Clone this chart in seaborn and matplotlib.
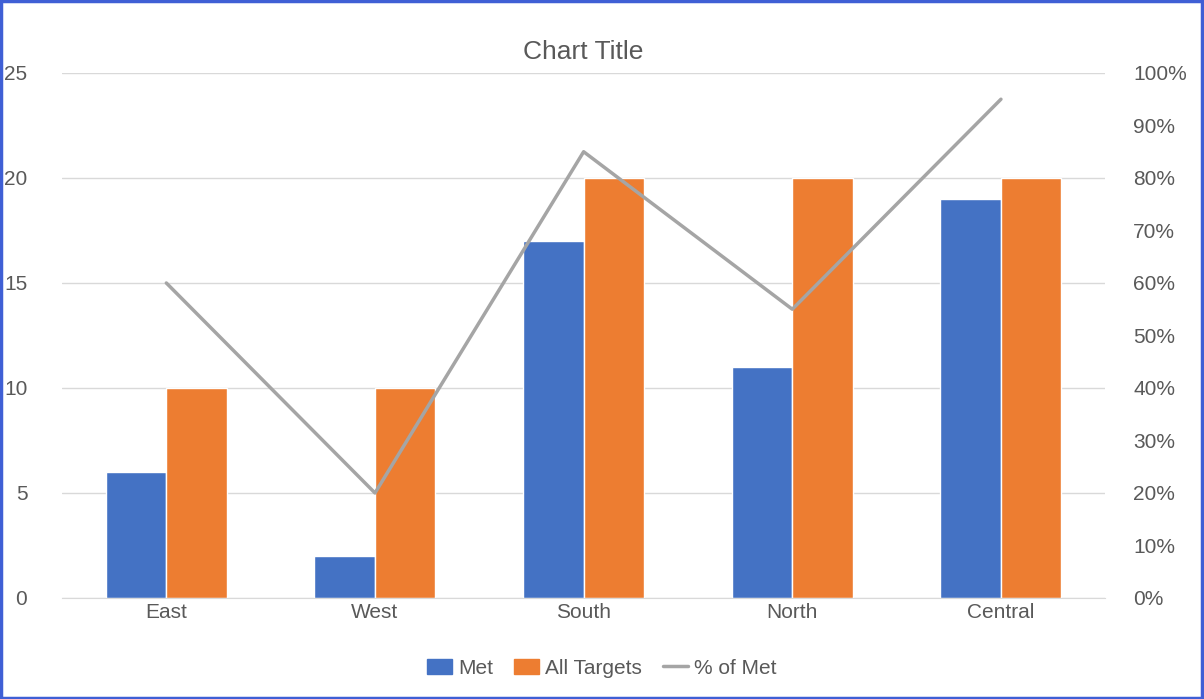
import matplotlib
matplotlib.use("Agg")
import matplotlib.pyplot as plt
import matplotlib.patches as mpatches
from matplotlib.lines import Line2D
from matplotlib.ticker import PercentFormatter
import pandas as pd
import seaborn as sns

regions = ["East", "West", "South", "North", "Central"]
met = [6, 2, 17, 11, 19]
all_targets = [10, 10, 20, 20, 20]
pct_met = [60, 20, 85, 55, 95]

sns.set_style("white")
plt.rcParams["font.family"] = ["Liberation Sans", "DejaVu Sans"]
gray = "#595959"

df = pd.DataFrame({
    "region": regions * 2,
    "value": met + all_targets,
    "series": ["Met"] * 5 + ["All Targets"] * 5,
})

fig = plt.figure(figsize=(12.04, 6.99), dpi=100)
ax = fig.add_axes([0.0515, 0.1445, 0.8665, 0.7511])
sns.barplot(data=df, x="region", y="value", hue="series", ax=ax,
            palette=["#4472C4", "#ED7D31"], width=0.58, saturation=1,
            legend=False)
ax.set_ylim(0, 25)
ax.set_xlim(-0.5, 4.5)
ax.set_yticks(range(0, 26, 5))
ax.yaxis.grid(True, color="#D9D9D9", lw=1)
ax.set_axisbelow(True)
ax.set_xlabel("")
ax.set_ylabel("")
for s in ["top", "right", "left"]:
    ax.spines[s].set_visible(False)
ax.spines["bottom"].set_color("#D9D9D9")
ax.tick_params(colors=gray, labelsize=15, length=0)
ax.tick_params(axis="y", pad=25)

ax2 = ax.twinx()
sns.lineplot(x=list(range(5)), y=pct_met, ax=ax2, color="#A5A5A5", lw=2.5)
ax2.set_ylim(0, 100)
ax2.set_yticks(range(0, 101, 10))
ax2.yaxis.set_major_formatter(PercentFormatter(decimals=0))
for s in ax2.spines.values():
    s.set_visible(False)
ax2.tick_params(colors=gray, labelsize=15, length=0, pad=20)

ax.set_title("Chart Title", color=gray, fontsize=19, pad=10)

handles = [mpatches.Patch(color="#4472C4", label="Met"),
           mpatches.Patch(color="#ED7D31", label="All Targets"),
           Line2D([], [], color="#A5A5A5", lw=2.5, label="% of Met")]
fig.legend(handles=handles, loc="center", bbox_to_anchor=(0.5, 0.044), ncol=3,
           frameon=False, fontsize=15, labelcolor=gray, handlelength=1.2,
           handletextpad=0.3, columnspacing=1.0)

fig.add_artist(mpatches.Rectangle((0.001, 0.001), 0.997, 0.997, transform=fig.transFigure,
                                  fill=False, edgecolor="#3F5FD5", lw=2.5))
fig.savefig("out.png", dpi=100)
